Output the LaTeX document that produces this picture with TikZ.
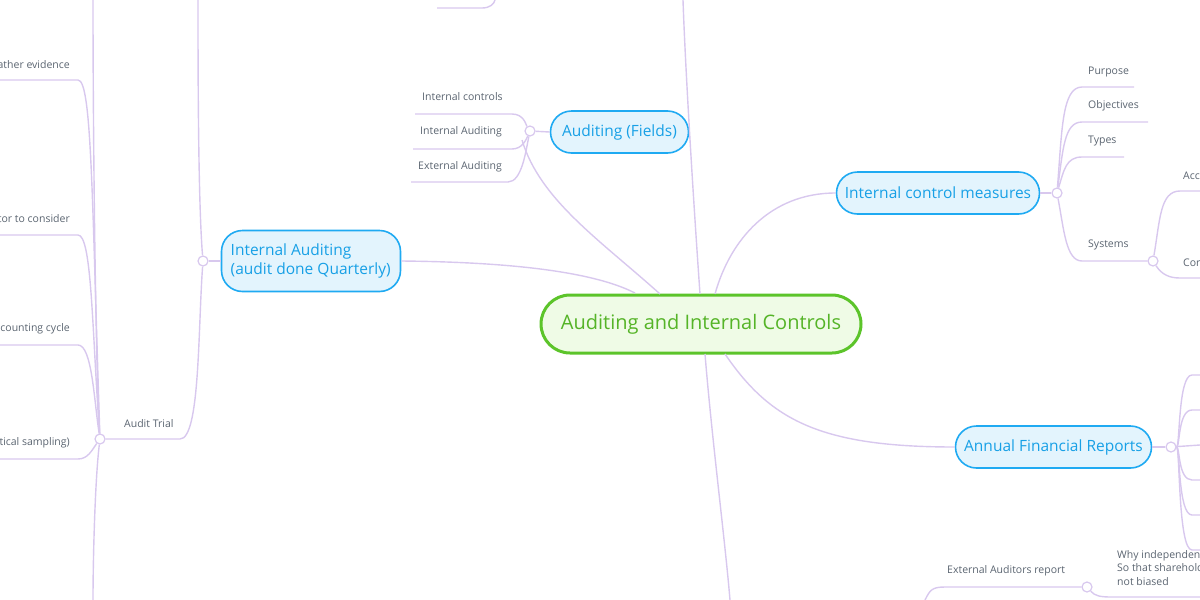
\documentclass[tikz,border=0pt]{standalone}
\usepackage{fontspec}
\setmainfont{Open Sans}
\begin{document}
\begin{tikzpicture}[x=1pt,y=-1pt,
  ln/.style={draw=lil,line width=1.4pt},
  dot/.style={circle,draw=lil,line width=1.2pt,fill=white,minimum size=10pt,inner sep=0},
  lbl/.style={font=\fontsize{10.5}{13}\selectfont,text=gt,anchor=west,inner sep=0},
  topic/.style={draw=bl,line width=1.6pt,fill=blf,rounded corners=21pt,text=bt,font=\fontsize{15.5}{19}\selectfont,align=left,inner sep=0}]
\definecolor{lil}{HTML}{D8C8EE}
\definecolor{gt}{HTML}{5A6470}
\definecolor{bl}{HTML}{1FAAF2}
\definecolor{blf}{HTML}{E3F4FD}
\definecolor{bt}{HTML}{17A0E6}
\definecolor{gr}{HTML}{5CC42A}
\definecolor{grf}{HTML}{EFFBE6}
\useasboundingbox (0,0) rectangle (1200,600);
% center
\node (c) [draw=gr,line width=3pt,fill=grf,rounded corners=29pt,minimum width=320pt,minimum height=58pt,text=gr!92!black,font=\fontsize{20}{23}\selectfont] at (701,324) {Auditing and Internal Controls};
% topics
\node (ia) [topic,minimum width=179pt,minimum height=61pt,align=left] at (311,261) {Internal Auditing\hspace*{40pt}\\(audit done Quarterly)};
\node (af) [topic,minimum width=138pt,minimum height=42pt,align=center] at (619.5,132) {Auditing (Fields)};
\node (icm) [topic,minimum width=203pt,minimum height=42pt,align=center] at (938,193) {Internal control measures};
\node (afr) [topic,minimum width=196pt,minimum height=42pt,align=center] at (1053.5,447) {Annual Financial Reports};
% center connectors
\draw[ln] (ia.east) .. controls (500,262) and (590,270) .. (635,293);
\draw[ln] (660,294) .. controls (600,240) and (540,200) .. (522,140);
\draw[ln] (icm.west) .. controls (770,193) and (730,240) .. (715,294);
\draw[ln] (afr.west) .. controls (820,447) and (770,420) .. (725,354);
\draw[ln] (705,354) .. controls (712,440) and (725,540) .. (730,600);
\draw[ln] (700,294) .. controls (692,180) and (685,60) .. (683,0);
% auditing fields
\node (d1) [dot] at (530,131) {};
\draw[ln] (af.west) -- (d1);
\node (t1) [lbl] at (422,97) {Internal controls};
\node (t2) [lbl] at (420,132) {Internal Auditing};
\node (t3) [lbl] at (418,167) {External Auditing};
\draw[ln] (415,114) -- (512,114) .. controls (524,114) and (526,125) .. (d1);
\draw[ln] (413,149) -- (512,149) .. controls (522,149) and (526,140) .. (d1);
\draw[ln] (411,182) -- (508,182) .. controls (522,182) and (526,150) .. (d1);
% internal auditing branch
\node (d2) [dot] at (203,261) {};
\draw[ln] (ia.west) -- (d2);
\draw[ln] (d2) .. controls (198,200) and (198,60) .. (198,0);
\node (at) [lbl] at (124,424) {Audit Trial};
\node (d3) [dot] at (100,439) {};
\draw[ln] (d2) .. controls (198,330) and (200,439) .. (180,439) -- (d3);
\node (g1) [lbl,anchor=east] at (70,65) {ather evidence};
\node (g2) [lbl,anchor=east] at (70,219) {tor to consider};
\node (g3) [lbl,anchor=east] at (70,329) {counting cycle};
\node (g4) [lbl,anchor=east] at (70,443) {tical sampling)};
\draw[ln] (0,80) -- (78,80) .. controls (92,80) and (92,200) .. (d3);
\draw[ln] (0,235) -- (78,235) .. controls (92,235) and (92,330) .. (d3);
\draw[ln] (0,345) -- (78,345) .. controls (92,345) and (94,400) .. (d3);
\draw[ln] (0,459) -- (78,459) .. controls (88,459) and (92,450) .. (d3);
\draw[ln] (93,0) .. controls (93,150) and (96,380) .. (d3);
\draw[ln] (d3) .. controls (95,480) and (93,560) .. (93,600);
% top stub
\coordinate (ts) at (495,0);
\draw[ln] (437,8) -- (482,8) .. controls (490,8) and (494,4) .. (ts);
% internal control measures
\node (d4) [dot] at (1057,193) {};
\draw[ln] (icm.east) -- (d4);
\node (p1) [lbl] at (1088,72) {Purpose};
\node (p2) [lbl] at (1088,106) {Objectives};
\node (p3) [lbl] at (1088,141) {Types};
\node (p4) [lbl] at (1088,245) {Systems};
\draw[ln] (d4) .. controls (1062,130) and (1062,87) .. (1082,87) -- (1134,87);
\draw[ln] (d4) .. controls (1063,150) and (1064,122) .. (1082,122) -- (1148,122);
\draw[ln] (d4) .. controls (1064,170) and (1066,157) .. (1082,157) -- (1124,157);
\node (d5) [dot] at (1153,261) {};
\draw[ln] (d4) .. controls (1064,230) and (1066,261) .. (1082,261) -- (d5);
\node (s1) [lbl] at (1183,176) {Acc};
\node (s2) [lbl] at (1183,263) {Cor};
\draw[ln] (d5) .. controls (1160,220) and (1160,191) .. (1180,191) -- (1200,191);
\draw[ln] (d5) .. controls (1162,275) and (1170,278) .. (1180,278) -- (1200,278);
% annual financial reports
\node (d6) [dot] at (1171,447) {};
\draw[ln] (afr.east) -- (d6);
\foreach \yy in {375,410,480,515,550}{
  \draw[ln] (d6) .. controls (1180,447) and (1178,\yy) .. (1192,\yy) -- (1200,\yy);}
\draw[ln] (d6) -- (1200,445);
% external auditors
\node (e1) [lbl] at (947,571) {External Auditors report};
\node (d7) [dot] at (1087,587) {};
\draw[ln] (925,600) .. controls (930,590) and (932,587) .. (945,587) -- (d7);
\node (w1) [lbl,align=left,font=\fontsize{10.5}{13.5}\selectfont,anchor=north west] at (1117,550) {Why independent\\So that sharehold\\not biased};
\draw[ln] (d7) .. controls (1095,596) and (1100,597) .. (1112,597) -- (1200,597);
\end{tikzpicture}
\end{document}
